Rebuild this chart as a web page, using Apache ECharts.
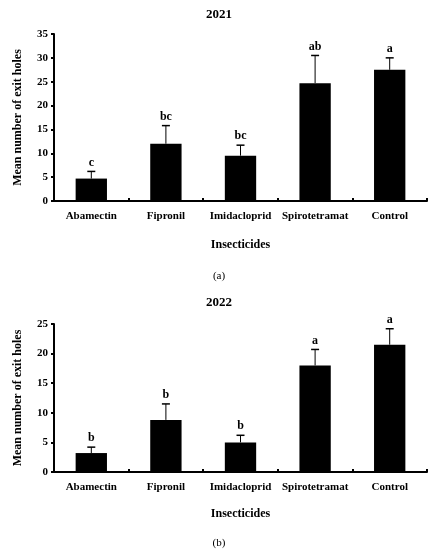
<!DOCTYPE html>
<html>
<head>
<meta charset="utf-8">
<script src="https://cdn.jsdelivr.net/npm/echarts@6/dist/echarts.min.js"></script>
<style>html,body{margin:0;background:#fff}#c{width:438px;height:550px}</style>
</head>
<body>
<div id="c"></div>
<script>
var categories = ['Abamectin', 'Fipronil', 'Imidacloprid', 'Spirotetramat', 'Control'];
var means2021 = [4.7, 12.0, 9.5, 24.7, 27.5];
var upper2021 = [6.2, 15.8, 11.7, 30.5, 30.0];
var letters2021 = ['c', 'bc', 'bc', 'ab', 'a'];
var means2022 = [3.2, 8.8, 5.0, 18.0, 21.5];
var upper2022 = [4.2, 11.5, 6.2, 20.7, 24.2];
var letters2022 = ['b', 'b', 'b', 'a', 'a'];

var font = 'Liberation Serif';
var chart = echarts.init(document.getElementById('c'));

function errItem(letters) {
    return function (params, api) {
        var x = api.value(0), y0 = api.value(1), y1 = api.value(2);
        var p0 = api.coord([x, y0]), p1 = api.coord([x, y1]);
        return {
            type: 'group', children: [
                {type: 'line', shape: {x1: p0[0], y1: p0[1], x2: p1[0], y2: p1[1]}, style: {stroke: '#000', lineWidth: 1}},
                {type: 'line', shape: {x1: p1[0] - 4, y1: p1[1], x2: p1[0] + 4, y2: p1[1]}, style: {stroke: '#000', lineWidth: 1.5}},
                {type: 'text', x: p1[0], y: p1[1] - 3, style: {text: letters[params.dataIndex], textAlign: 'center', textVerticalAlign: 'bottom', font: 'bold 12px ' + font, fill: '#000'}}
            ]
        };
    };
}

function axes(idx, max, interval, nameGap) {
    return {
        x: {type: 'category', gridIndex: idx, data: categories, axisLine: {lineStyle: {color: '#000', width: 2}},
            axisTick: {show: true, inside: true, length: 3, lineStyle: {color: '#000', width: 2}},
            axisLabel: {color: '#000', fontFamily: font, fontWeight: 'bold', fontSize: 11, margin: 10, interval: 0},
            name: 'Insecticides', nameLocation: 'middle', nameGap: nameGap, nameTextStyle: {color: '#000', fontFamily: font, fontWeight: 'bold', fontSize: 12}},
        y: {type: 'value', gridIndex: idx, min: 0, max: max, interval: interval, splitLine: {show: false},
            axisLine: {show: true, lineStyle: {color: '#000', width: 2}}, axisTick: {show: true, length: 3, lineStyle: {color: '#000', width: 2}},
            axisLabel: {color: '#000', fontFamily: font, fontWeight: 'bold', fontSize: 11, margin: 6},
            name: 'Mean number of exit holes', nameLocation: 'middle', nameGap: 30, nameTextStyle: {color: '#000', fontFamily: font, fontWeight: 'bold', fontSize: 12}}
    };
}
var a1 = axes(0, 35, 5, 38), a2 = axes(1, 25, 5, 36);

chart.setOption({
    animation: false,
    title: [
        {text: '2021', left: 'center', top: 3, textStyle: {fontFamily: font, fontSize: 13, fontWeight: 'bold', color: '#000'}},
        {text: '2022', left: 'center', top: 291, textStyle: {fontFamily: font, fontSize: 13, fontWeight: 'bold', color: '#000'}},
        {text: '(a)', left: 'center', top: 266, textStyle: {fontFamily: font, fontSize: 11, fontWeight: 'normal', color: '#000'}},
        {text: '(b)', left: 'center', top: 533, textStyle: {fontFamily: font, fontSize: 11, fontWeight: 'normal', color: '#000'}}
    ],
    grid: [
        {left: 54, right: 11, top: 34, height: 167},
        {left: 54, right: 11, top: 324, height: 148}
    ],
    xAxis: [a1.x, a2.x],
    yAxis: [a1.y, a2.y],
    series: [
        {type: 'bar', xAxisIndex: 0, yAxisIndex: 0, data: means2021, barWidth: '42%', itemStyle: {color: '#000'}},
        {type: 'custom', xAxisIndex: 0, yAxisIndex: 0, renderItem: errItem(letters2021),
            data: means2021.map(function (m, i) { return [i, m, upper2021[i]]; }), z: 5},
        {type: 'bar', xAxisIndex: 1, yAxisIndex: 1, data: means2022, barWidth: '42%', itemStyle: {color: '#000'}},
        {type: 'custom', xAxisIndex: 1, yAxisIndex: 1, renderItem: errItem(letters2022),
            data: means2022.map(function (m, i) { return [i, m, upper2022[i]]; }), z: 5}
    ]
});
</script>
</body>
</html>
